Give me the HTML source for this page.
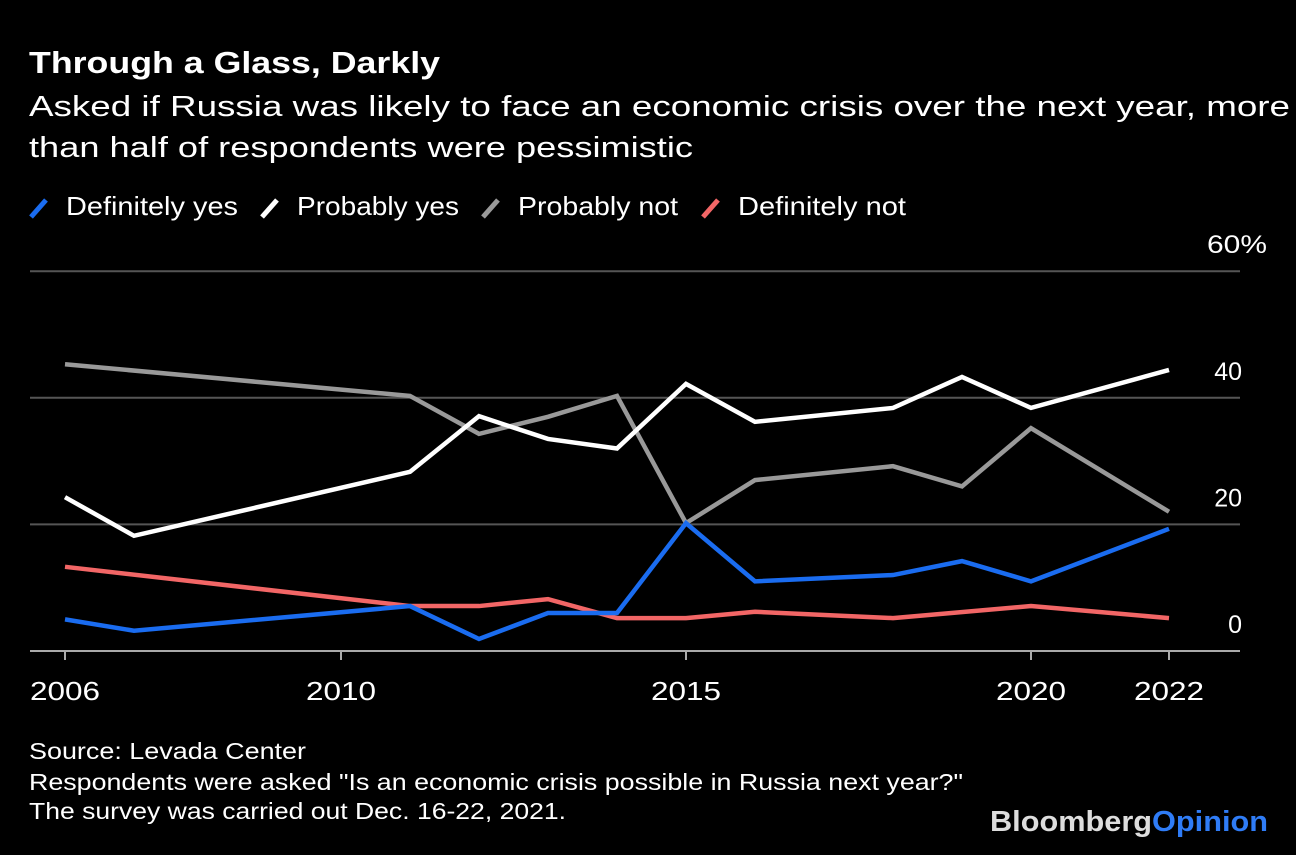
<!DOCTYPE html>
<html><head><meta charset="utf-8"><style>
body{margin:0;background:#000;width:1296px;height:850px;overflow:hidden;font-family:"Liberation Sans",sans-serif;color:#fff}
svg text{font-family:"Liberation Sans",sans-serif}
</style></head><body>
<svg id="chart" width="1296" height="850" xmlns="http://www.w3.org/2000/svg">
<rect width="1296" height="850" fill="#000"/>
<text x="29" y="73" font-size="31" font-weight="bold" fill="#fff" textLength="411" lengthAdjust="spacingAndGlyphs">Through a Glass, Darkly</text>
<text x="29" y="116" font-size="29" fill="#fff" textLength="1261" lengthAdjust="spacingAndGlyphs">Asked if Russia was likely to face an economic crisis over the next year, more</text>
<text x="29" y="157" font-size="29" fill="#fff" textLength="664" lengthAdjust="spacingAndGlyphs">than half of respondents were pessimistic</text>
<g id="legend"></g>
<g id="grid"></g><g id="lines"></g>
<text x="29" y="759" font-size="23" fill="#fff" textLength="277" lengthAdjust="spacingAndGlyphs">Source: Levada Center</text>
<text x="29" y="790" font-size="23" fill="#fff" textLength="934" lengthAdjust="spacingAndGlyphs">Respondents were asked "Is an economic crisis possible in Russia next year?"</text>
<text x="29" y="819" font-size="23" fill="#fff" textLength="537" lengthAdjust="spacingAndGlyphs">The survey was carried out Dec. 16-22, 2021.</text>
<text x="990" y="831" font-size="29" font-weight="bold" textLength="278" lengthAdjust="spacingAndGlyphs"><tspan fill="#ddd">Bloomberg</tspan><tspan fill="#2f7cf6">Opinion</tspan></text>
</svg>
<script>
const years=[2006,2007,2011,2012,2013,2014,2015,2016,2018,2019,2020,2022];
const definitelyYes=[5,3.2,7.1,1.9,6,6,20.2,11,12,14.2,11,19.3];
const probablyYes=[24.3,18.2,28.3,37.1,33.5,32,42.2,36.2,38.4,43.3,38.4,44.4];
const probablyNot=[45.3,null,40.3,34.3,37,40.3,20.2,27,29.2,26,35.2,22];
const definitelyNot=[13.3,null,7.1,7.1,8.2,5.2,5.2,6.2,5.2,null,7.1,5.2];
const yTicks=[0,20,40,60];
const yTickLabels=["0","20","40","60%"];
const xTicks=[2006,2010,2015,2020,2022];
const seriesNames=["Definitely yes","Probably yes","Probably not","Definitely not"];
const NS="http://www.w3.org/2000/svg";
const x=v=>65+(v-2006)*69;
const y=v=>651-v*6.33;
function mk(t,a,p){const e=document.createElementNS(NS,t);for(const k in a)e.setAttribute(k,a[k]);p.appendChild(e);return e;}
const grid=document.getElementById('grid');
yTicks.forEach((t,i)=>{
  if(t>0){const l=mk('line',{x1:30,x2:1240,y1:y(t),y2:y(t),stroke:'#555','stroke-width':2},grid);
  
  }
  const lab=yTickLabels[i];
  const tx=mk('text',{x:lab.indexOf('%')>=0?1207:1242,y:y(t)-18,'font-size':25,fill:'#fff','text-anchor':lab.indexOf('%')>=0?'start':'end'},grid);
  if(lab.indexOf('%')>=0){tx.setAttribute('textLength',60);tx.setAttribute('lengthAdjust','spacingAndGlyphs');}
  tx.textContent=lab;
  
  
});
const base=mk('line',{x1:30,x2:1240,y1:651,y2:651,stroke:'#aaa','stroke-width':2},grid);


xTicks.forEach(t=>{
  const tk=mk('line',{x1:x(t),x2:x(t),y1:651,y2:660,stroke:'#aaa','stroke-width':2},grid);
  
  
  const tx=mk('text',{x:x(t)-35,y:700,'font-size':26,fill:'#fff',textLength:70,lengthAdjust:'spacingAndGlyphs'},grid);
  tx.textContent=t;
  
  
});
const colors=['#1a6cf0','#ffffff','#999999','#f26666'];
const data=[definitelyYes,probablyYes,probablyNot,definitelyNot];
const lines=document.getElementById('lines');
[2,3,0,1].forEach(si=>{
  const pts=[];data[si].forEach((v,i)=>{if(v!==null)pts.push(x(years[i])+','+y(v));});
  const p=mk('polyline',{points:pts.join(' '),fill:'none',stroke:colors[si],'stroke-width':4.5,'stroke-linejoin':'miter'},lines);
  
  
});
const lg=document.getElementById('legend');
const lx=[31,262,483,703];
const lw=[172,162,160,168];
seriesNames.forEach((n,i)=>{
  const g=mk('g',{},lg);
  
  
  mk('line',{x1:lx[i],y1:217,x2:lx[i]+15,y2:200,stroke:colors[i],'stroke-width':5},g);
  const t=mk('text',{x:lx[i]+35,y:215,'font-size':26,fill:'#fff',textLength:lw[i],lengthAdjust:'spacingAndGlyphs'},g);t.textContent=n;
});
</script>
</body></html>
